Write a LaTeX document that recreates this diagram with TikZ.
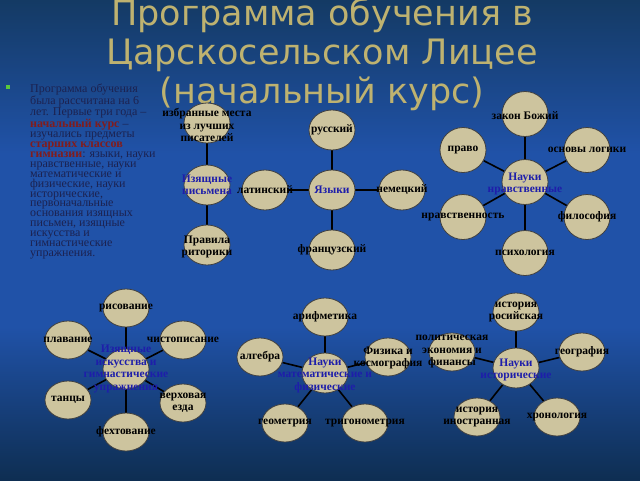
\documentclass[tikz,border=0pt]{standalone}
\usepackage{fontspec}
\setmainfont{Liberation Serif}
\newfontfamily\titlefont{DejaVu Sans}
\usetikzlibrary{shapes.geometric,backgrounds}
\definecolor{bgtop}{RGB}{20,58,100}
\definecolor{bgmid}{RGB}{32,82,168}
\definecolor{bgbot}{RGB}{14,46,82}
\definecolor{bubfill}{RGB}{205,196,158}
\definecolor{ttl}{RGB}{190,178,112}
\definecolor{ctr}{RGB}{30,30,170}
\definecolor{lt}{RGB}{28,34,80}
\definecolor{rd}{RGB}{130,28,28}
\definecolor{bul}{RGB}{90,200,60}
\pgfdeclareverticalshading{bgshade}{100bp}{color(0bp)=(bgbot); color(25bp)=(bgbot); color(41bp)=(bgmid); color(59bp)=(bgmid); color(75bp)=(bgtop); color(100bp)=(bgtop)}
\begin{document}
\begin{tikzpicture}[x=1pt,y=-1pt,
  bub/.style={ellipse,draw=black!75,line width=0.8pt,fill=bubfill,inner sep=0pt,minimum width=46pt,minimum height=#1},
  bub/.default=41pt,
  txt/.style={font=\fontsize{11.5}{12.5}\selectfont\bfseries,align=center,text=black,inner sep=0pt},
  ctxt/.style={txt,text=ctr},
  link/.style={line width=1.6pt,black},
  ttlfont/.style={font=\titlefont\fontsize{35}{39}\selectfont,inner sep=0pt,anchor=base}]
\useasboundingbox (0,0) rectangle (640,480);
% title
\node[ttlfont,text=ttl] (t1) at (322,25) {Программа обучения в};
\node[ttlfont,text=ttl] (t2) at (322,64) {Царскосельском Лицее};
\node[ttlfont,text=ttl] (t3) at (322,103) {(начальный курс)};
% left text
\node[fill=bul,minimum size=3.5pt,inner sep=0pt] (bullet) at (8,87) {};
\node[anchor=north west,inner sep=0pt,align=left,text=lt,font=\fontsize{12}{9.9}\selectfont] (intro) at (30,83.5) {%
Программа обучения\\
была рассчитана на 6\\
лет. Первые три года –\\
\textcolor{rd}{\bfseries начальный курс} –\\
изучались предметы\\
\textcolor{rd}{\bfseries старших классов}\\
\textcolor{rd}{\bfseries гимназии}: языки, науки\\
нравственные, науки\\
математические и\\
физические, науки\\
исторические,\\
первоначальные\\
основания изящных\\
письмен, изящные\\
искусства и\\
гимнастические\\
упражнения.};
% cluster 1: Изящные письмена
\node[bub=40pt] (a1) at (207,123) {};
\node[bub=40pt] (a0) at (207,185) {};
\node[bub=40pt] (a2) at (207,245) {};
\node[txt] (a1t) at (207,125) {избранные места\\из лучших\\писателей};
\node[ctxt] (a0t) at (207,185) {Изящные\\письмена};
\node[txt] (a2t) at (207,247) {Правила\\риторики};
% Языки
\node[bub=40pt] (b1) at (332,130) {};
\node[bub=40pt] (b2) at (265,190) {};
\node[bub=40pt] (b0) at (332,190) {};
\node[bub=40pt] (b3) at (402,190) {};
\node[bub=40pt] (b4) at (332,250) {};
\node[txt] (b1t) at (b1) {русский};
\node[txt] (b2t) at (b2) {латинский};
\node[ctxt] (b0t) at (b0) {Языки};
\node[txt] (b3t) at (b3) {немецкий};
\node[txt] (b4t) at (b4) {французский};
% Науки нравственные
\node[bub=45pt] (c1) at (525,114) {};
\node[bub=45pt] (c2) at (463,150) {};
\node[bub=45pt] (c3) at (587,150) {};
\node[bub=45pt] (c0) at (525,182) {};
\node[bub=45pt] (c4) at (463,217) {};
\node[bub=45pt] (c5) at (587,217) {};
\node[bub=45pt] (c6) at (525,253) {};
\node[txt] (c1t) at (525,116) {закон Божий};
\node[txt] (c2t) at (c2) {право};
\node[txt] (c3t) at (c3) {основы логики};
\node[ctxt] (c0t) at (525,184) {Науки\\нравственные};
\node[txt] (c4t) at (c4) {нравственность};
\node[txt] (c5t) at (c5) {философия};
\node[txt] (c6t) at (c6) {психология};
% Изящные искусства
\node[bub=38pt] (d1) at (126,308) {};
\node[bub=38pt] (d2) at (68,340) {};
\node[bub=38pt] (d3) at (183,340) {};
\node[bub=40pt] (d0) at (126,369) {};
\node[bub=38pt] (d4) at (68,400) {};
\node[bub=38pt] (d5) at (183,403) {};
\node[bub=38pt] (d6) at (126,432) {};
\node[txt] (d1t) at (d1) {рисование};
\node[txt] (d2t) at (d2) {плавание};
\node[txt] (d3t) at (d3) {чистописание};
\node[ctxt] (d0t) at (126,369) {Изящные\\искусства и\\гимнастические\\упражнения};
\node[txt] (d4t) at (d4) {танцы};
\node[txt] (d5t) at (d5) {верховая\\езда};
\node[txt] (d6t) at (d6) {фехтование};
% Науки математические
\node[bub=38pt] (e1) at (325,317) {};
\node[bub=38pt] (e2) at (260,357) {};
\node[bub=38pt] (e3) at (388,357) {};
\node[bub=40pt] (e0) at (325,373) {};
\node[bub=38pt] (e4) at (285,423) {};
\node[bub=38pt] (e5) at (365,423) {};
\node[txt] (e1t) at (e1) {арифметика};
\node[txt] (e2t) at (e2) {алгебра};
\node[txt] (e3t) at (388,358) {Физика и\\космография};
\node[ctxt] (e0t) at (325,375) {Науки\\математические и\\физические};
\node[txt] (e4t) at (e4) {геометрия};
\node[txt] (e5t) at (e5) {тригонометрия};
% Науки исторические
\node[bub=38pt] (f1) at (516,312) {};
\node[bub=38pt] (f2) at (452,352) {};
\node[bub=38pt] (f3) at (582,352) {};
\node[bub=40pt] (f0) at (516,368) {};
\node[bub=38pt] (f4) at (477,417) {};
\node[bub=38pt] (f5) at (557,417) {};
\node[txt] (f1t) at (f1) {история\\росийская};
\node[txt] (f2t) at (f2) {политическая\\экономия и\\финансы};
\node[txt] (f3t) at (f3) {география};
\node[ctxt] (f0t) at (516,370) {Науки\\исторические};
\node[txt] (f4t) at (f4) {история\\иностранная};
\node[txt] (f5t) at (f5) {хронология};
\begin{scope}[on background layer]
  \shade[shading=bgshade] (0,0) rectangle (640,480);
  \draw[link] (a0) -- (a1) (a0) -- (a2);
  \foreach \i in {1,...,4} \draw[link] (b0) -- (b\i);
  \foreach \i in {1,...,6} \draw[link] (c0) -- (c\i);
  \foreach \i in {1,...,6} \draw[link] (d0) -- (d\i);
  \foreach \i in {1,...,5} \draw[link] (e0) -- (e\i);
  \foreach \i in {1,...,5} \draw[link] (f0) -- (f\i);
\end{scope}
\end{tikzpicture}
\end{document}
